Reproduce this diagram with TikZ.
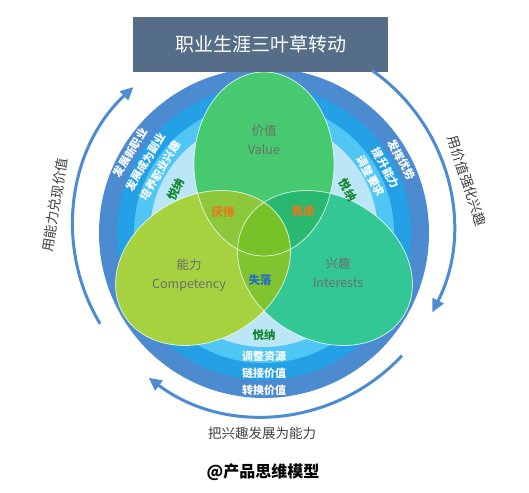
\documentclass[tikz,border=0pt]{standalone}
\usepackage{fontspec}
\setmainfont{Noto Sans CJK SC}
\usetikzlibrary{arrows.meta}
\definecolor{ringA}{RGB}{76,139,207}
\definecolor{ringB}{RGB}{36,160,230}
\definecolor{ringC}{RGB}{80,198,245}
\definecolor{ringD}{RGB}{186,230,248}
\definecolor{leafV}{RGB}{70,201,111}
\definecolor{leafC}{RGB}{166,210,64}
\definecolor{leafI}{RGB}{52,199,150}
\definecolor{lapVC}{RGB}{140,200,58}
\definecolor{lapVI}{RGB}{42,184,112}
\definecolor{lapCI}{RGB}{128,197,48}
\definecolor{lapAll}{RGB}{118,194,40}
\definecolor{leaftext}{RGB}{105,112,108}
\definecolor{cycleblue}{RGB}{77,140,208}
\definecolor{titlegrey}{RGB}{86,109,136}
\definecolor{moodorange}{RGB}{230,120,30}
\definecolor{moodgreen}{RGB}{20,135,45}
\definecolor{moodblue}{RGB}{40,110,190}
\tikzset{
x=1pt, y=1pt, % one unit is one pixel of the reference
band/.style={font=\fontsize{11}{12}\selectfont\bfseries, text=white, inner sep=0pt}, % text on the rings
leaflabel/.style={font=\fontsize{12.5}{19}\selectfont, text=leaftext, align=center}, % names of the leaves
mood/.style={font=\fontsize{11.5}{12}\selectfont\bfseries, inner sep=0pt}, % overlap words
leafline/.style={draw=white, draw opacity=0.75, line width=0.8pt}, % leaf outline
cycle/.style={line width=3pt, draw=cycleblue, -{Triangle[length=13pt,width=12pt]}}, % outer arrows
outside/.style={font=\fontsize{13.5}{14}\selectfont, text=black!75, inner sep=0pt}, % text by the arrows
}
\newcommand\leafV{(264,328) ellipse [x radius=70, y radius=92]}
\newcommand\leafC{(203,224) ellipse [x radius=92, y radius=72, rotate=30]}
\newcommand\leafI{(325,224) ellipse [x radius=92, y radius=72, rotate=-30]}

\begin{document}
\begin{tikzpicture}
\useasboundingbox[fill=white] (0,0) rectangle (529,492);
\coordinate (ctr) at (264,259);
\coordinate (hub) at (263,266);
% rings
\foreach \r/\c in {165/ringA,147/ringB,130/ringC,114/ringD}
  \fill[\c] (ctr) circle[radius=\r];
% leaves and their overlaps
\fill[leafV] \leafV;
\fill[leafC] \leafC;
\fill[leafI] \leafI;
\begin{scope}
  \clip \leafV;
  \fill[lapVC] \leafC;
  \fill[lapVI] \leafI;
\end{scope}
\begin{scope}
  \clip \leafC;
  \fill[lapCI] \leafI;
\end{scope}
\begin{scope}
  \clip \leafV; \clip \leafC;
  \fill[lapAll] \leafI;
\end{scope}
\draw[leafline] \leafV;
\draw[leafline] \leafC;
\draw[leafline] \leafI;
% title
\node[fill=titlegrey, text=white, minimum width=255, minimum height=55,
  font=\fontsize{19}{20}\selectfont] (title) at (260.5,447.5) {职业生涯三叶草转动};
% ring texts
\node[band, rotate=59] (newjob) at ([shift={(149:156)}]ctr) {发展新职业};
\node[band, rotate=59] (sidejob) at ([shift={(149:138)}]ctr) {发展成为副业};
\node[band, rotate=59] (hobby) at ([shift={(149:121)}]ctr) {培养职业兴趣};
\node[band, rotate=-62] (strength) at ([shift={(28:156)}]ctr) {发挥优势};
\node[band, rotate=-62] (skill) at ([shift={(28:138)}]ctr) {提升能力};
\node[band, rotate=-62] (demand) at ([shift={(28:121)}]ctr) {调整要求};
\node[band] (convert) at ([shift={(270:157)}]ctr) {转换价值};
\node[band] (link) at ([shift={(270:140)}]ctr) {链接价值};
\node[band] (resource) at ([shift={(270:123)}]ctr) {调整资源};
% leaf names
\node[leaflabel] (value) at (264,352) {价值\\Value};
\node[leaflabel] (compet) at (189,217) {能力\\Competency};
\node[leaflabel] (interest) at (338,219) {兴趣\\Interests};
% overlap words
\node[mood, text=moodorange] (bored) at (223,280) {厌倦};
\node[mood, text=moodorange] (anxious) at (303,281) {焦虑};
\node[mood, text=moodblue] (lost) at (260,212) {失落};
\node[mood, text=moodgreen] (acceptB) at (264,157) {悦纳};
\node[mood, text=moodgreen, rotate=62] (acceptL) at (176,303) {悦纳};
\node[mood, text=moodgreen, rotate=-62] (acceptR) at (348,302) {悦纳};
% outer cycle
\draw[cycle] ([shift={(211:190)}]hub) arc[start angle=211, end angle=133, radius=190];
\draw[cycle] ([shift={(55:190)}]hub) arc[start angle=55, end angle=-27, radius=190];
\draw[cycle] ([shift={(-43:190)}]hub) arc[start angle=-43, end angle=-127, radius=190];
\node[outside, rotate=81] (useskill) at (55,287) {用能力兑现价值};
\node[outside, rotate=-72] (usevalue) at (467,311) {用价值强化兴趣};
\node[outside] (grow) at (262,59) {把兴趣发展为能力};
\node[font=\fontsize{16}{17}\selectfont\bfseries] (credit) at (263,20) {@产品思维模型};
\end{tikzpicture}
\end{document}
